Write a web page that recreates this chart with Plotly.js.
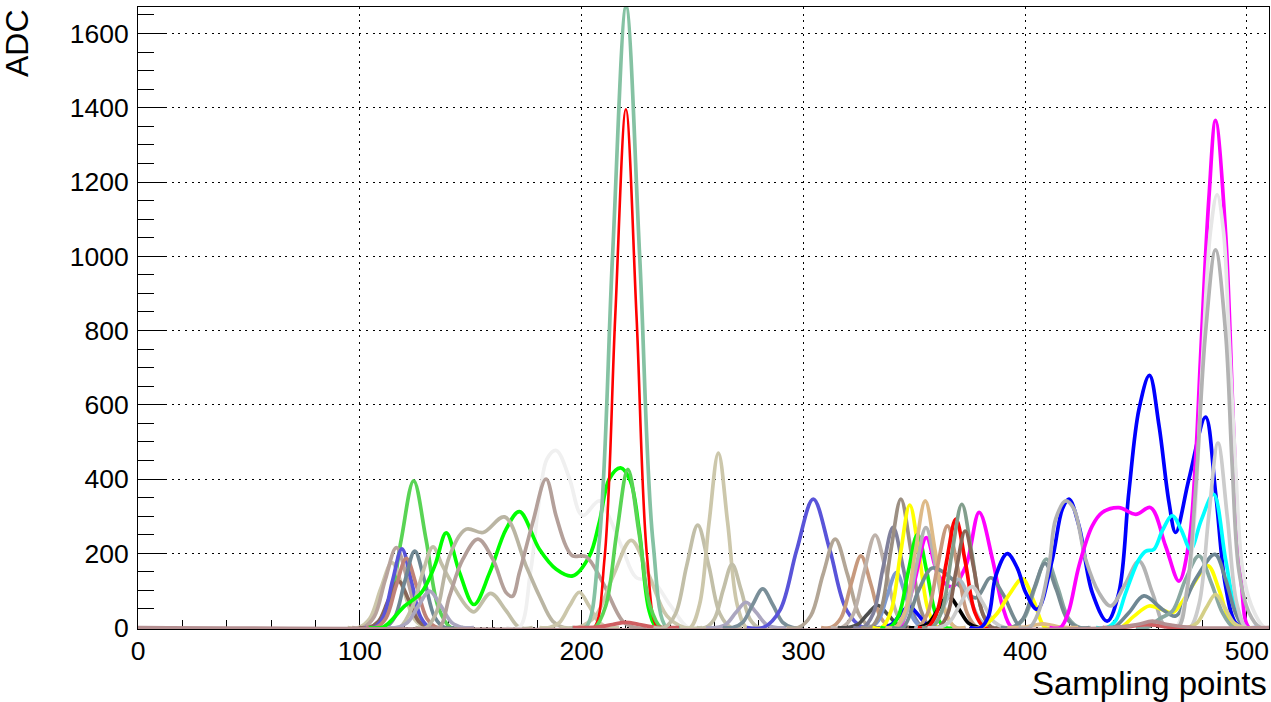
<!DOCTYPE html>
<html><head><meta charset="utf-8">
<script src="https://cdn.plot.ly/plotly-3.0.1.min.js"></script>
<style>html,body{margin:0;padding:0;background:#fff}#chart{width:1271px;height:702px}</style>
</head><body><div id="chart"></div>
<script>
// ---------------- data ----------------
const xTitle = 'Sampling points';
const yTitle = 'ADC';
const xRange = [0, 510];
const yRange = [-4, 1671.5];
const xTickStep = 100, xMinorStep = 20;
const yTickStep = 200, yMinorStep = 50;

// each waveform: knot points [sample, ADC]
const w01 = [[101.9,0],[107.5,0],[113.1,53],[118.7,237],[124.3,395],[129.9,237],[135.5,53],[141.1,0],[146.7,0]];   // green 8
const w02 = [[94.5,0],[99.5,0],[104.5,24],[109.5,105],[114.5,175],[119.5,105],[124.5,24],[129.5,0],[134.5,0]];     // tan 20
const w03 = [[96.5,0],[101.5,0],[106.5,29],[111.5,129],[116.5,215],[121.5,129],[126.5,29],[131.5,0],[136.5,0]];    // rosy 25
const w04 = [[99.5,0],[104,0],[108.5,17],[113,75],[117.5,125],[122,75],[126.5,17],[131,0],[135.5,0]];              // brown 28
const w05 = [[102.2,0],[106.4,0],[110.6,29],[114.8,127],[119,212],[123.2,127],[127.4,29],[131.6,0],[135.8,0]];     // blue-violet 9
const w06 = [[102.6,0],[107.2,0],[111.8,25],[116.4,112],[121,186],[125.6,112],[130.2,25],[134.8,0],[139.4,0]];     // salmon 45
const w07 = [[106.8,0],[111.3,0],[115.8,28],[120.3,124],[124.8,206],[129.3,124],[133.8,28],[138.3,0],[142.8,0]];   // slate 35
const w08 = [[112,0],[118,0],[124,60],[128.5,150],[133,217],[137,170],[140.5,130],[148,58],[151.5,42],[159,92],[166,45],[172,0],[178,0]]; // tan 22
const w09 = [[111.5,0],[116.5,0],[121.5,13],[126.5,59],[131.5,98],[136.5,59],[141.5,13],[146.5,0],[151.5,0]];      // lavender 40
const w10 = [[166,0],[172,0],[177,150],[181,346],[184.5,455],[188.6,477],[194.6,400],[199,310],[201,302],[208,341],[213,290],[218.6,211],[224.6,135],[232,125],[240,60],[248,0],[254,0]]; // whitesmoke 19
const w11 = [[104,0],[110,0],[113,12],[120.3,58],[127.8,94],[133.8,166],[139,255],[145,148],[151.5,62],[158.6,148],[166,265],[172,312],[181,211],[188.6,157],[196,139],[203.6,193],[208,283],[212.5,400],[217.6,430],[222,395],[226,263],[230.5,45],[234,0],[239,0]]; // green 3
const w12 = [[125,0],[130,0],[134.5,40],[140.5,193],[148,265],[155.6,256],[165.3,298],[175,166],[181,85],[187,17],[192,0],[197,0]]; // tan-gray 23
const w13 = [[131,0],[136,0],[140.5,85],[146.5,184],[153.3,238],[160,184],[166,94],[168.8,84],[172,148],[178,283],[184,400],[188.5,301],[193,219],[196,193],[202,191],[209.6,121],[218.6,17],[224,0],[229,0]]; // rosy-gray
const w14 = [[181,0],[185.5,0],[190,13],[194.5,57],[199,95],[203.5,57],[208,13],[212.5,0],[217,0]];                // tan 20
const w15 = [[190.4,0],[198.4,0],[206.4,32],[214.4,141],[222.4,235],[230.4,141],[238.4,32],[246.4,0],[254.4,0]];   // tan 20
const w16 = [[195.7,0],[201.8,0],[207.9,226],[214,1003],[220.1,1672],[226.2,1003],[232.3,226],[238.4,0],[244.5,0]]; // teal 30
const w17 = [[200.8,0],[205.6,0],[210.4,188],[215.2,838],[220,1396],[224.8,838],[229.6,188],[234.4,0],[239.2,0]];   // red
const w18 = [[200.9,0],[205.9,0],[210.9,58],[215.9,256],[220.9,426],[225.9,256],[230.9,58],[235.9,0],[240.9,0]];   // green 8
const w19 = [[196,0],[202,0],[208,2],[214,8],[220,14],[226,8],[232,2],[238,0],[244,0]];                             // indian red 46
const w20 = [[232.4,0],[237.4,0],[242.4,37],[247.4,166],[252.4,276],[257.4,166],[262.4,37],[267.4,0],[272.4,0]];   // tan 22
const w21 = [[244.9,0],[249.1,0],[253.3,64],[257.5,282],[261.7,470],[265.9,282],[270.1,64],[274.3,0],[278.5,0]];   // tan 20
const w22 = [[251.9,0],[255.9,0],[259.9,23],[263.9,102],[267.9,170],[271.9,102],[275.9,23],[279.9,0],[283.9,0]];   // tan 22
const w23 = [[256.2,0],[260.7,0],[265.2,9],[269.7,41],[274.2,68],[278.7,41],[283.2,9],[287.7,0],[292.2,0]];        // lavender 40
const w24 = [[263.7,0],[268.2,0],[272.7,14],[277.2,62],[281.7,104],[286.2,62],[290.7,14],[295.2,0],[299.7,0]];     // slate 34
const w25 = [[274.5,0],[282,0],[289.5,47],[297,208],[304.5,346],[312,208],[319.5,47],[327,0],[334.5,0]];           // blue-violet 9
const w26 = [[292.4,0],[297.9,0],[303.4,32],[308.9,143],[314.4,238],[319.9,143],[325.4,32],[330.9,0],[336.4,0]];   // rosy-tan 24
const w27 = [[308,0],[312.5,0],[317,26],[321.5,116],[326,193],[330.5,116],[335,26],[339.5,0],[344,0]];             // copper 44
const w28 = [[312.4,0],[317.4,0],[322.4,34],[327.4,149],[332.4,249],[337.4,149],[342.4,34],[347.4,0],[352.4,0]];   // light rose
const w29 = [[315.5,0],[320,0],[324.5,8],[329,36],[333.5,60],[338,36],[342.5,8],[347,0],[351.5,0]];                // dark gray 12
const w30 = [[322.5,0],[327,0],[331.5,37],[336,162],[340.5,270],[345,162],[349.5,37],[354,0],[358.5,0]];           // slate-blue 39
const w31 = [[326,0],[330,0],[334,20],[338,89],[342,148],[346,89],[350,20],[354,0],[358,0]];                       // cornflower 38
const w32 = [[326,0],[330.5,0],[335,47],[339.5,208],[344,346],[348.5,208],[353,47],[357.5,0],[362,0]];             // gray-brown 27
const w33 = [[331.7,0],[335.7,0],[339.7,8],[343.7,35],[347.7,58],[351.7,35],[355.7,8],[359.7,0],[363.7,0]];        // blue
const w34 = [[331.2,0],[335.4,0],[339.6,45],[343.8,198],[348,330],[352.2,198],[356.4,45],[360.6,0],[364.8,0]];     // yellow
const w35 = [[334.7,0],[338.9,0],[343.1,34],[347.3,150],[351.5,250],[355.7,150],[359.9,34],[364.1,0],[368.3,0]];   // green 3
const w36 = [[338,0],[343,0],[350,121],[355.5,242],[361,140],[367,110],[373.3,166],[379.3,310],[385.3,184],[389.8,58],[394,0],[399,0]]; // magenta
const w37 = [[337.3,0],[341.8,0],[346.3,36],[350.8,161],[355.3,269],[359.8,161],[364.3,36],[368.8,0],[373.3,0]];   // gray 16
const w38 = [[337,0],[341.5,0],[346,46],[350.5,205],[355,341],[359.5,205],[364,46],[368.5,0],[373,0]];             // burlywood 42
const w39 = [[340,0],[345,0],[352,100],[358,160],[363,150],[370,115],[377.8,80],[384.5,134],[390,90],[398,0],[403,0]]; // slate 35
const w40 = [[347,0],[351.5,0],[356,37],[360.5,164],[365,274],[369.5,164],[374,37],[378.5,0],[383,0]];             // copper 44
const w41 = [[347.5,0],[352,0],[356.5,12],[361,51],[365.5,85],[370,51],[374.5,12],[379,0],[383.5,0]];              // black
const w42 = [[350,0],[355,0],[360,18],[365,78],[370,130],[375,78],[380,18],[385,0],[390,0]];                       // light blue 33
const w43 = [[351.6,0],[355.9,0],[360.2,40],[364.5,175],[368.8,292],[373.1,175],[377.4,40],[381.7,0],[386,0]];     // red
const w44 = [[353.5,0],[358,0],[362.5,45],[367,199],[371.5,332],[376,199],[380.5,45],[385,0],[389.5,0]];           // gray-green 32
const w45 = [[357,0],[361,0],[365,35],[369,156],[373,260],[377,156],[381,35],[385,0],[389,0]];                     // brown 28
const w46 = [[356,0],[361,0],[366,15],[371,66],[376,110],[381,66],[386,15],[391,0],[396,0]];                       // light gray 17
const w47 = [[375,0],[380,0],[387,35],[393,90],[398.8,131],[404,70],[409,0],[414,0]];                              // yellow
const w48 = [[389.6,0],[394.6,0],[399.6,25],[404.6,110],[409.6,184],[414.6,110],[419.6,25],[424.6,0],[429.6,0]];   // gray-green 31
const w49 = [[389,0],[394,0],[399,23],[404,104],[409,173],[414,104],[419,23],[424,0],[429,0]];                     // slate 35
const w50 = [[392,0],[396,0],[400,1.4],[404,6],[408,10],[412,6],[416,1.4],[420,0],[424,0]];                        // burlywood 42
const w51 = [[375,0],[380,0],[383.5,30],[386.8,139],[392,199],[396.5,160],[400.3,94],[405.5,49],[412.3,184],[416.8,319],[419.8,346],[424.3,274],[430.3,94],[437,17],[442.3,94],[446.8,364],[451.4,589],[456.1,679],[460.4,544],[464.9,337],[467.9,256],[473.9,400],[481.4,567],[485.9,364],[490.4,112],[494.9,13],[499,0],[504,0]]; // blue
const w52 = [[397,0],[402,0],[406,40],[410.8,166],[413.8,292],[418.3,341],[422,320],[427.3,184],[433.3,94],[438.6,58],[445,115],[451.4,179],[457.4,94],[463.4,0],[468,0]]; // gray 16
const w53 = [[411,0],[416,0],[419.5,40],[424.3,166],[430.3,274],[434.8,310],[442.3,323],[449.9,305],[456.6,323],[463.4,219],[469.4,125],[473.9,229],[476.9,454],[479.1,724],[482.9,1157],[485.9,1366],[490.4,1066],[494.1,526],[497.5,120],[501,0],[506,0]]; // magenta
const w54 = [[432,0],[437,0],[441,20],[445.4,94],[451.4,184],[454.5,206],[458,210],[462,262],[466.4,301],[470.5,262],[474.6,211],[479.5,290],[485,359],[490.4,184],[494.9,49],[499.4,0],[504,0]]; // cyan
const w55 = [[438,0],[443,0],[449,30],[455.9,58],[461,50],[466.4,40],[471,70],[475.4,112],[482.5,166],[487.4,103],[491.9,22],[495,0],[500,0]]; // yellow
const w56 = [[435,0],[440,0],[446.8,40],[453.6,85],[461.9,49],[467.9,31],[476.9,130],[485.6,197],[490.4,130],[494.9,40],[499,0],[504,0]]; // slate 35
const w57 = [[450,0],[455,0],[461,25],[466.4,44],[472.4,130],[478.4,193],[484,120],[489,40],[494,0],[499,0]];      // gray-green 31
const w58 = [[463,0],[468,0],[473,100],[476.5,300],[479.9,706],[483.6,1066],[486.6,1166],[489.5,1066],[491.9,796],[494.9,436],[498,160],[502,60],[508,0],[510,0]]; // whitesmoke 18
const w59 = [[464,0],[469,0],[473,100],[477,380],[481.4,796],[485.9,1017],[490.4,796],[493.4,436],[496.5,150],[501,40],[506,0],[510,0]]; // gray 16
const w60 = [[470.2,0],[474.4,0],[478.6,67],[482.8,298],[487,497],[491.2,298],[495.4,67],[499.6,0],[503.8,0]];     // light gray 17
const w61 = [[469.1,0],[473.3,0],[477.5,12],[481.7,53],[485.9,89],[490.1,53],[494.3,12],[498.5,0],[502.7,0]];      // khaki 41
const w62 = [[435,0],[440,0],[445,1],[450,5],[455,8],[460,5],[465,1],[470,0],[475,0]];                             // indian red 46
const w63 = [[0,0],[439.4,0],[450.5,8],[457.4,17],[464.3,8],[475.4,0],[510,0]];                                    // rosy 47 (full record)

const waves = [w01,w02,w03,w04,w05,w06,w07,w08,w09,w10,w11,w12,w13,w14,w15,w16,w17,w18,w19,w20,
  w21,w22,w23,w24,w25,w26,w27,w28,w29,w30,w31,w32,w33,w34,w35,w36,w37,w38,w39,w40,
  w41,w42,w43,w44,w45,w46,w47,w48,w49,w50,w51,w52,w53,w54,w55,w56,w57,w58,w59,w60,w61,w62,w63];

// ---------------- styles ----------------
const waveColors = ['#59d454','#ccc7ab','#b8a39c','#876657','#5954d9','#bf8278','#6f8793','#c2bfa8','#aba6bf','#f0f0f0',
  '#00ff00','#bab5a3','#b4a09a','#ccc7ab','#ccc7ab','#85c2a3','#ff0000','#59d454','#cf5e61','#c2bfa8',
  '#ccc7ab','#c2bfa8','#aba6bf','#7a8f99','#5954d9','#b3a696','#c7997d','#beb2aa','#4d4d4d','#80809c',
  '#7d99d1','#9c8f82','#0000ff','#ffff00','#00ff00','#ff00ff','#b3b3b3','#deba87','#758a91','#c7997d',
  '#000000','#adbdc7','#ff0000','#829e8c','#876657','#cccccc','#ffff00','#8aa8a1','#758a91','#deba87',
  '#0000ff','#b3b3b3','#ff00ff','#00ffff','#ffff00','#6f8793','#8aa8a1','#e6e6e6','#b3b3b3','#cccccc',
  '#d4cf87','#cf5e61','#b48f91'];

const FONT = 'Liberation Sans, Arial, Helvetica, sans-serif';
const traces = waves.map((w, i) => ({
  type: 'scatter', mode: 'lines',
  x: w.map(p => p[0]), y: w.map(p => p[1]),
  line: {color: waveColors[i], width: (i === 16 ? 2.6 : 3.7), shape: 'spline', smoothing: 1},
  hoverinfo: 'skip', showlegend: false
}));

const axisCommon = {
  ticks: 'inside', tickcolor: '#000', tickwidth: 1,
  showline: true, linecolor: '#000', linewidth: 1, mirror: true,
  showgrid: true, gridcolor: '#000', gridwidth: 1, griddash: '2px,4.7px',
  zeroline: false, fixedrange: true, layer: 'below traces',
  tickfont: {family: FONT, size: 26.5, color: '#000'}
};

const layout = {
  width: 1271, height: 702,
  margin: {l: 138, r: 2, t: 7, b: 73, pad: 0},
  paper_bgcolor: '#fff', plot_bgcolor: '#fff',
  xaxis: Object.assign({}, axisCommon, {
    range: xRange, tick0: 0, dtick: xTickStep, ticklen: 17, ticklabelstandoff: -2,
    minor: {dtick: xMinorStep, ticklen: 9, ticks: 'inside', tickcolor: '#000', tickwidth: 1, showgrid: false}
  }),
  yaxis: Object.assign({}, axisCommon, {
    range: yRange, tick0: 0, dtick: yTickStep, ticklen: 28, ticklabelstandoff: 3,
    minor: {dtick: yMinorStep, ticklen: 16, ticks: 'inside', tickcolor: '#000', tickwidth: 1, showgrid: false}
  }),
  annotations: [
    {text: xTitle, xref: 'paper', yref: 'paper', x: 1.0, y: -0.088, xanchor: 'right', yanchor: 'middle',
     showarrow: false, font: {family: FONT, size: 33, color: '#000'}},
    {text: yTitle, xref: 'paper', yref: 'paper', x: -0.107, y: 1.0, xanchor: 'center', yanchor: 'top',
     textangle: -90, showarrow: false, font: {family: FONT, size: 32, color: '#000'}}
  ]
};

Plotly.newPlot('chart', traces, layout, {displayModeBar: false, staticPlot: true});
</script>
</body></html>
